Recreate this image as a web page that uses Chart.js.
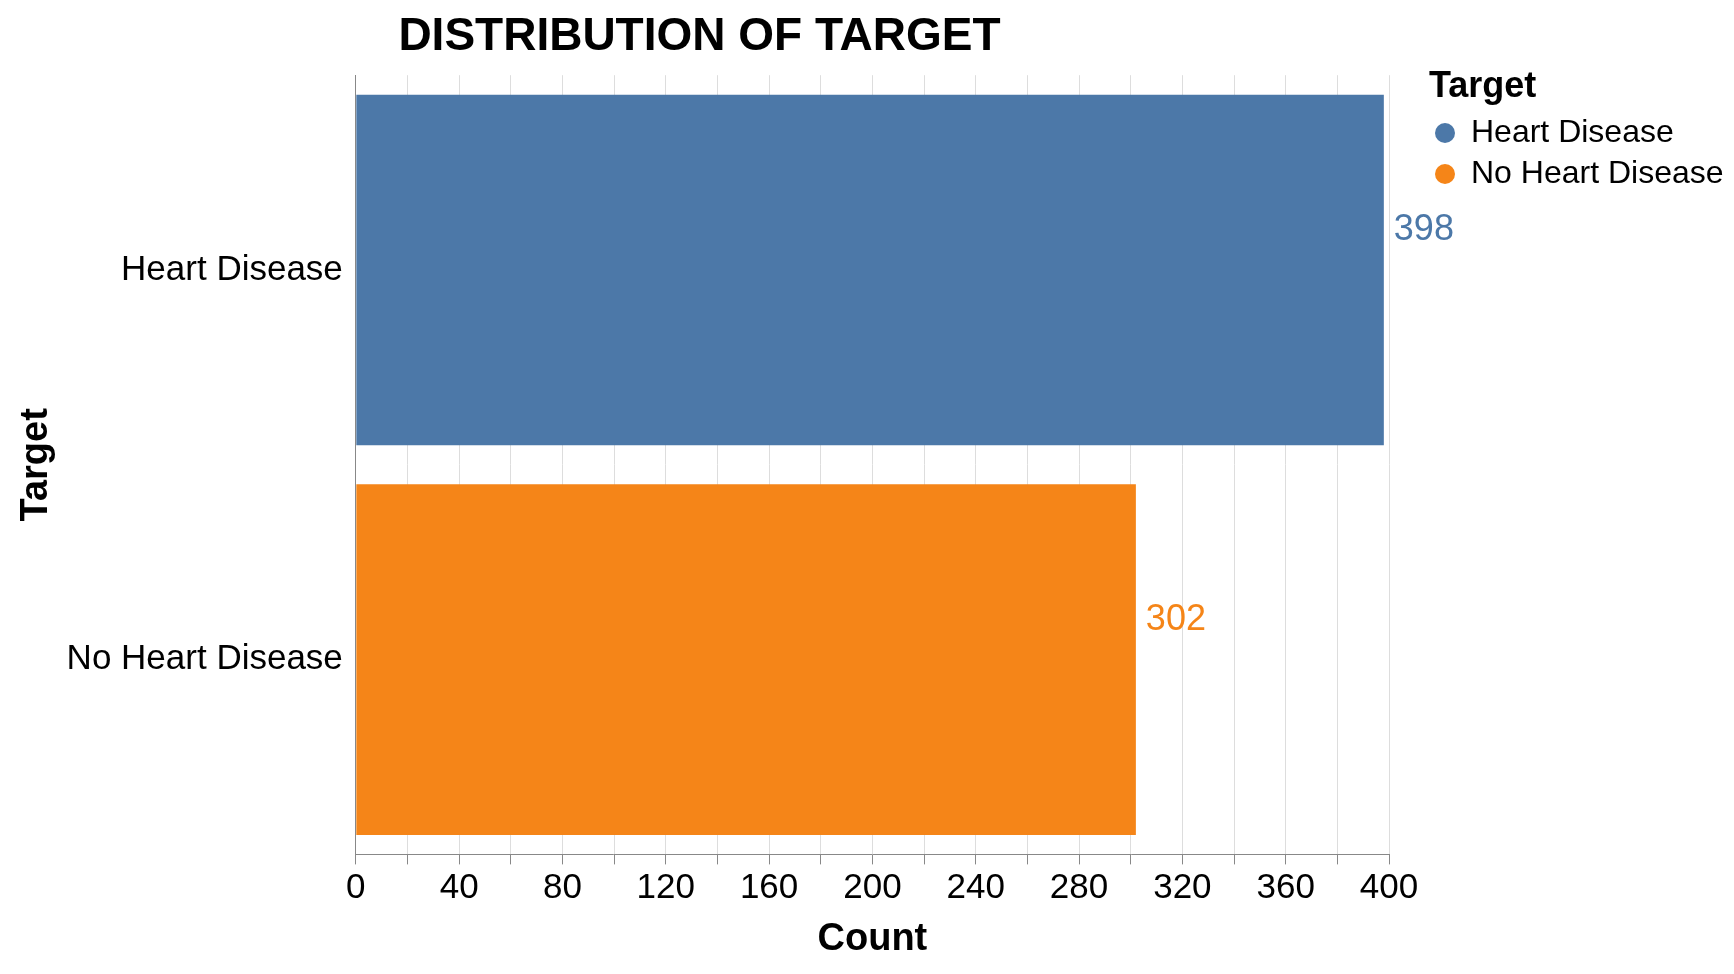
<!DOCTYPE html>
<html><head><meta charset="utf-8">
<script src="https://cdn.jsdelivr.net/npm/chart.js@4"></script>
<style>html,body{margin:0;background:#fff}#wrap{width:1734px;height:974px}</style>
</head><body><div id="wrap"><canvas id="c"></canvas></div>
<script>
const categories = ['Heart Disease', 'No Heart Disease'];
const counts = [398, 302];
const colors = ['#4c78a8', '#f58518'];
const xTicks = [0, 40, 80, 120, 160, 200, 240, 280, 320, 360, 400];

const FONT = "'Liberation Sans', Arial, sans-serif";
Chart.defaults.font.family = FONT;
Chart.defaults.color = '#000';

// value labels at bar ends + legend on the right
const extras = {
    id: 'extras',
    afterDatasetsDraw(chart) {
        const ctx = chart.ctx;
        ctx.save();
        ctx.font = '36px ' + FONT;
        ctx.textBaseline = 'middle';
        chart.data.datasets.forEach((ds, i) => {
            chart.getDatasetMeta(i).data.forEach((bar, j) => {
                if (ds.data[j] == null) return;
                ctx.fillStyle = colors[i];
                ctx.fillText(ds.data[j], bar.x + 10, bar.y - 40);
            });
        });
        // legend
        const lx = chart.chartArea.right + 40;
        ctx.fillStyle = '#000';
        ctx.font = 'bold 36px ' + FONT;
        ctx.fillText('Target', lx, 87);
        ctx.font = '32px ' + FONT;
        categories.forEach((name, i) => {
            const y = 133 + i * 41;
            ctx.fillStyle = colors[i];
            ctx.beginPath();
            ctx.arc(lx + 16, y, 10, 0, Math.PI * 2);
            ctx.fill();
            ctx.fillStyle = '#000';
            ctx.fillText(name, lx + 42, y);
        });
        ctx.restore();
    }
};

new Chart(document.getElementById('c'), {
    type: 'bar',
    data: {
        labels: categories,
        datasets: categories.map((name, i) => ({
            label: name,
            data: categories.map((_, j) => j === i ? counts[i] : null),
            backgroundColor: colors[i],
            categoryPercentage: 0.9,
            barPercentage: 1
        }))
    },
    options: {
        indexAxis: 'y',
        responsive: true,
        maintainAspectRatio: false,
        animation: false,
        layout: { padding: { top: 4, right: 345, bottom: 8, left: 10 } },
        plugins: {
            title: {
                display: true, text: 'DISTRIBUTION OF TARGET',
                font: { size: 46, weight: 'bold' }, padding: { top: 6, bottom: 10 }
            },
            legend: { display: false },
            tooltip: { enabled: false }
        },
        scales: {
            x: {
                stacked: true, min: 0, max: 400,
                afterBuildTicks: axis => { axis.ticks = []; for (let v = 0; v <= 400; v += 20) axis.ticks.push({ value: v }); },
                ticks: { font: { size: 35 }, maxRotation: 0, autoSkip: false,
                    callback: v => xTicks.includes(v) ? v : '' },
                grid: { color: '#ddd', tickColor: '#888', tickLength: 10 },
                border: { color: '#888' },
                title: { display: true, text: 'Count', font: { size: 38, weight: 'bold' }, padding: { top: 4 } }
            },
            y: {
                stacked: true,
                ticks: { font: { size: 35 } },
                grid: { display: false, tickColor: '#888', tickLength: 10, drawTicks: true },
                border: { color: '#888' },
                title: { display: true, text: 'Target', font: { size: 38, weight: 'bold' } }
            }
        }
    },
    plugins: [extras]
});
</script></body></html>
